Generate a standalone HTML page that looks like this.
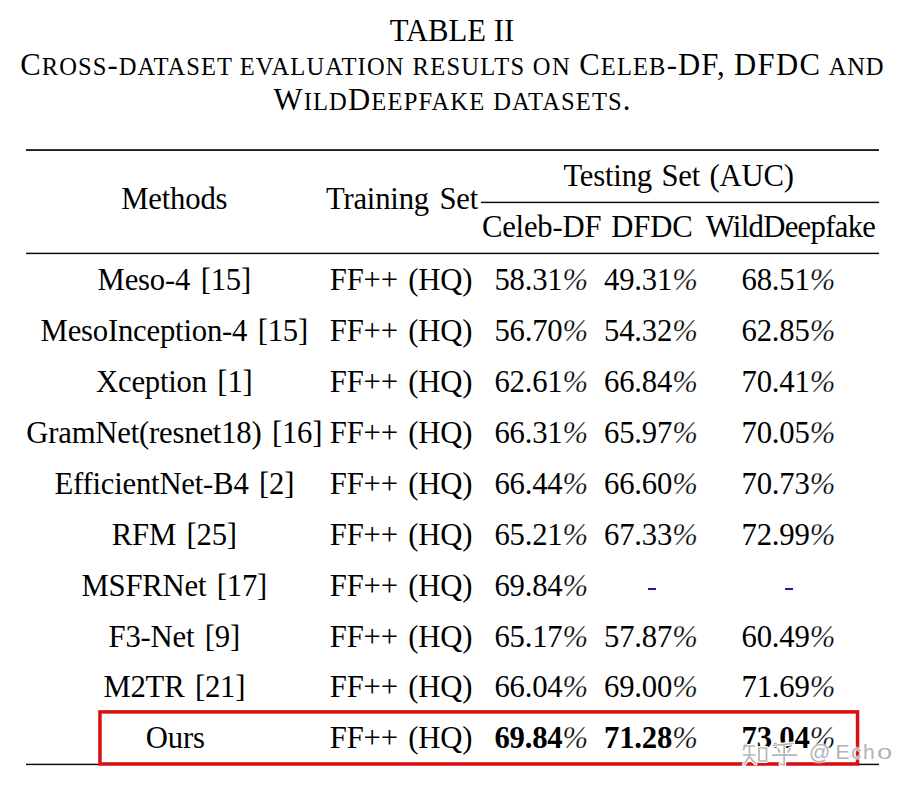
<!DOCTYPE html>
<html><head><meta charset="utf-8"><style>
html,body{margin:0;padding:0;background:#fff;}
body{width:916px;height:790px;position:relative;overflow:hidden;font-family:"Liberation Serif",serif;color:#000;}
.c{position:absolute;font-size:30.7px;line-height:40px;white-space:pre;text-align:center;word-spacing:3px;letter-spacing:-0.2px;}
.c i{font-style:italic;-webkit-text-stroke:0.3px #fff;}
.s{font-size:0.8em;}
.r{position:absolute;background:#1a1a1a;}
.d{position:absolute;background:#2414b8;}
.wm{position:absolute;top:738.5px;font-family:"Liberation Sans",sans-serif;font-size:21px;line-height:26px;color:#b3b3b3;text-shadow:0 0 2px #fff,0 0 2px #fff,0 0 2px #fff;white-space:pre;}
</style></head><body>
<div class="r" style="left:26px;top:149px;width:853px;height:2px;background:linear-gradient(#383838 0 1px,#1c1c1c 1px 2px);"></div>
<div class="r" style="left:481px;top:201px;width:398px;height:3px;background:linear-gradient(#b0b0b0 0 1px,#080808 1px 2px,#dedede 2px 3px);"></div>
<div class="r" style="left:26px;top:252px;width:853px;height:3px;background:linear-gradient(#b0b0b0 0 1px,#080808 1px 2px,#dedede 2px 3px);"></div>
<div class="r" style="left:26px;top:763px;width:853px;height:3px;background:linear-gradient(#b0b0b0 0 1px,#080808 1px 2px,#dedede 2px 3px);"></div>
<div class="c" style="left:251.90px;top:10.74px;width:400px;word-spacing:0;letter-spacing:0;">TABLE II</div>
<div class="c" style="left:20.30px;top:45.04px;letter-spacing:1.04px">C<span class="s">ROSS</span>-<span class="s">DATASET</span></div>
<div class="c" style="left:239.70px;top:45.04px;letter-spacing:1.13px"><span class="s">EVALUATION</span></div>
<div class="c" style="left:412.60px;top:45.04px;letter-spacing:1.22px"><span class="s">RESULTS</span></div>
<div class="c" style="left:532.80px;top:45.04px;letter-spacing:1.5px"><span class="s">ON</span></div>
<div class="c" style="left:579.20px;top:45.04px;letter-spacing:1.12px">C<span class="s">ELEB</span>-DF,</div>
<div class="c" style="left:734.00px;top:45.04px;letter-spacing:1.33px">DFDC</div>
<div class="c" style="left:828.70px;top:45.04px;letter-spacing:0.75px"><span class="s">AND</span></div>
<div class="c" style="left:273.50px;top:79.84px;letter-spacing:1.16px">W<span class="s">ILD</span>D<span class="s">EEPFAKE</span></div>
<div class="c" style="left:493.20px;top:79.84px;letter-spacing:1.1px"><span class="s">DATASETS</span>.</div>
<div class="c" style="left:14.30px;top:178.64px;width:320px;">Methods</div>
<div class="c" style="left:302.00px;top:178.64px;width:200px;">Training Set</div>
<div class="c" style="left:518.60px;top:155.64px;width:320px;word-spacing:2px;">Testing Set (AUC)</div>
<div class="c" style="left:441.60px;top:206.64px;width:200px;">Celeb-DF</div>
<div class="c" style="left:551.90px;top:206.64px;width:200px;">DFDC</div>
<div class="c" style="left:690.50px;top:206.64px;width:200px;letter-spacing:-0.68px;">WildDeepfake</div>
<div class="c" style="left:14.30px;top:259.64px;width:320px;">Meso-4 [15]</div>
<div class="c" style="left:301.00px;top:259.64px;width:200px;">FF++ (HQ)</div>
<div class="c" style="left:441.20px;top:259.64px;width:200px;">58.31<i>%</i></div>
<div class="c" style="left:550.80px;top:259.64px;width:200px;">49.31<i>%</i></div>
<div class="c" style="left:688.30px;top:259.64px;width:200px;">68.51<i>%</i></div>
<div class="c" style="left:14.30px;top:310.64px;width:320px;">MesoInception-4 [15]</div>
<div class="c" style="left:301.00px;top:310.64px;width:200px;">FF++ (HQ)</div>
<div class="c" style="left:441.20px;top:310.64px;width:200px;">56.70<i>%</i></div>
<div class="c" style="left:550.80px;top:310.64px;width:200px;">54.32<i>%</i></div>
<div class="c" style="left:688.30px;top:310.64px;width:200px;">62.85<i>%</i></div>
<div class="c" style="left:14.30px;top:361.64px;width:320px;">Xception [1]</div>
<div class="c" style="left:301.00px;top:361.64px;width:200px;">FF++ (HQ)</div>
<div class="c" style="left:441.20px;top:361.64px;width:200px;">62.61<i>%</i></div>
<div class="c" style="left:550.80px;top:361.64px;width:200px;">66.84<i>%</i></div>
<div class="c" style="left:688.30px;top:361.64px;width:200px;">70.41<i>%</i></div>
<div class="c" style="left:14.30px;top:412.64px;width:320px;">GramNet(resnet18) [16]</div>
<div class="c" style="left:301.00px;top:412.64px;width:200px;">FF++ (HQ)</div>
<div class="c" style="left:441.20px;top:412.64px;width:200px;">66.31<i>%</i></div>
<div class="c" style="left:550.80px;top:412.64px;width:200px;">65.97<i>%</i></div>
<div class="c" style="left:688.30px;top:412.64px;width:200px;">70.05<i>%</i></div>
<div class="c" style="left:14.30px;top:463.64px;width:320px;">EfficientNet-B4 [2]</div>
<div class="c" style="left:301.00px;top:463.64px;width:200px;">FF++ (HQ)</div>
<div class="c" style="left:441.20px;top:463.64px;width:200px;">66.44<i>%</i></div>
<div class="c" style="left:550.80px;top:463.64px;width:200px;">66.60<i>%</i></div>
<div class="c" style="left:688.30px;top:463.64px;width:200px;">70.73<i>%</i></div>
<div class="c" style="left:14.30px;top:514.64px;width:320px;">RFM [25]</div>
<div class="c" style="left:301.00px;top:514.64px;width:200px;">FF++ (HQ)</div>
<div class="c" style="left:441.20px;top:514.64px;width:200px;">65.21<i>%</i></div>
<div class="c" style="left:550.80px;top:514.64px;width:200px;">67.33<i>%</i></div>
<div class="c" style="left:688.30px;top:514.64px;width:200px;">72.99<i>%</i></div>
<div class="c" style="left:14.30px;top:565.64px;width:320px;">MSFRNet [17]</div>
<div class="c" style="left:301.00px;top:565.64px;width:200px;">FF++ (HQ)</div>
<div class="c" style="left:441.20px;top:565.64px;width:200px;">69.84<i>%</i></div>
<div class="c" style="left:14.30px;top:616.64px;width:320px;">F3-Net [9]</div>
<div class="c" style="left:301.00px;top:616.64px;width:200px;">FF++ (HQ)</div>
<div class="c" style="left:441.20px;top:616.64px;width:200px;">65.17<i>%</i></div>
<div class="c" style="left:550.80px;top:616.64px;width:200px;">57.87<i>%</i></div>
<div class="c" style="left:688.30px;top:616.64px;width:200px;">60.49<i>%</i></div>
<div class="c" style="left:14.30px;top:666.64px;width:320px;">M2TR [21]</div>
<div class="c" style="left:301.00px;top:666.64px;width:200px;">FF++ (HQ)</div>
<div class="c" style="left:441.20px;top:666.64px;width:200px;">66.04<i>%</i></div>
<div class="c" style="left:550.80px;top:666.64px;width:200px;">69.00<i>%</i></div>
<div class="c" style="left:688.30px;top:666.64px;width:200px;">71.69<i>%</i></div>
<div class="c" style="left:15.30px;top:717.64px;width:320px;">Ours</div>
<div class="c" style="left:301.00px;top:717.64px;width:200px;">FF++ (HQ)</div>
<div class="c" style="left:441.20px;top:717.64px;width:200px;"><b>69.84</b><i>%</i></div>
<div class="c" style="left:550.80px;top:717.64px;width:200px;"><b>71.28</b><i>%</i></div>
<div class="c" style="left:688.30px;top:717.64px;width:200px;"><b>73.04</b><i>%</i></div>
<div class="d" style="left:648px;top:588px;width:8px;height:2px;"></div>
<div class="d" style="left:785px;top:588px;width:8px;height:2px;"></div>
<svg style="position:absolute;left:0;top:0" width="916" height="790" viewBox="0 0 916 790">
<rect x="99.95" y="711.9" width="757.6" height="52.05" fill="none" stroke="#d90f12" stroke-width="3.5"/>
<g fill="none" stroke-linecap="round" stroke-linejoin="round">
<path stroke="#fff" stroke-width="4" d="M745.5 744.5 L743.5 749.5 M744 746 L754.5 746 M743.5 755 L755 755 M749.5 746 L749.5 756 L744 764.5 M750 757.5 L755.5 763.5 M759 748 L766.5 748 L766.5 761 L759 761 Z M759 748 L759 761 M773.5 745.5 L793 743.5 M778 749 L779.5 752 M790 748.5 L788 752 M772.5 755.2 L796.5 755.2 M784.2 745 L784.2 765 L780.5 764"/>
<path stroke="#b4b4b4" stroke-width="1.7" d="M745.5 744.5 L743.5 749.5 M744 746 L754.5 746 M743.5 755 L755 755 M749.5 746 L749.5 756 L744 764.5 M750 757.5 L755.5 763.5 M759 748 L766.5 748 L766.5 761 L759 761 Z M759 748 L759 761 M773.5 745.5 L793 743.5 M778 749 L779.5 752 M790 748.5 L788 752 M772.5 755.2 L796.5 755.2 M784.2 745 L784.2 765 L780.5 764"/>
</g>
</svg>
<div class="wm" style="left:809px">@</div><div class="wm" style="left:835.5px">E</div><div class="wm" style="left:851px">c</div><div class="wm" style="left:863px">h</div><div class="wm" style="left:877px;transform:scaleX(1.3);transform-origin:0 0">o</div>
</body></html>
